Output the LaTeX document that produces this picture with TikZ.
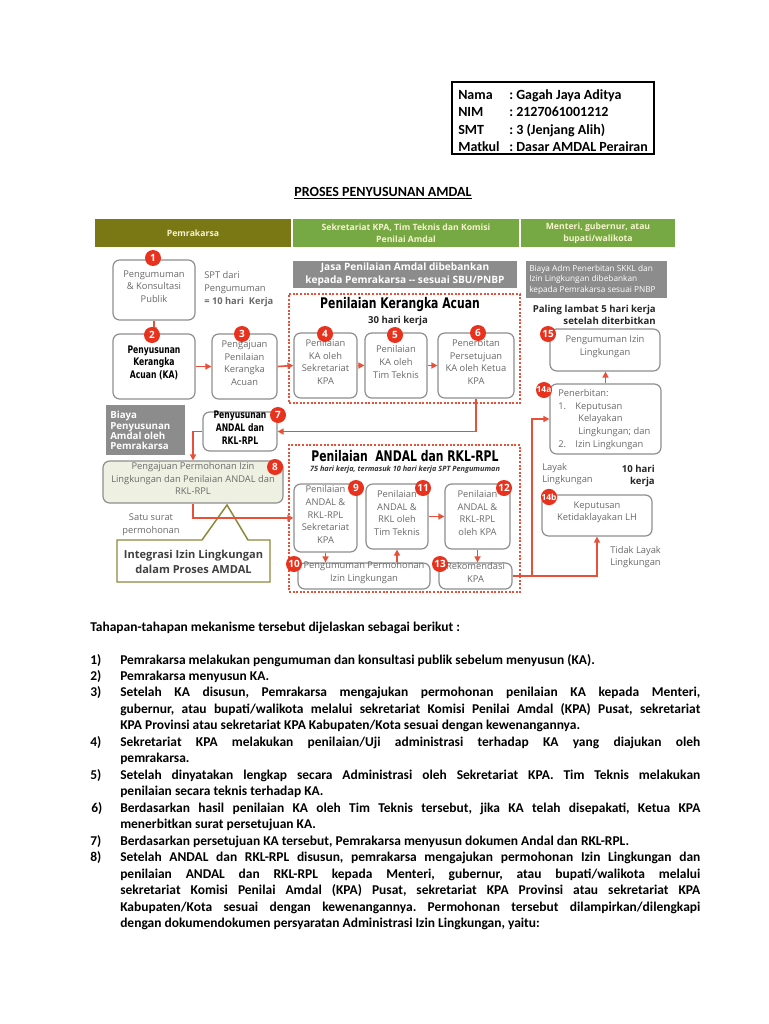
\documentclass[tikz,border=0pt]{standalone}
\usepackage{fontspec}
\setmainfont{Carlito}
\newfontfamily\dfont{Open Sans}
\newfontfamily\hfont{DejaVu Sans Condensed}[FakeStretch=0.82]
\usetikzlibrary{fit,arrows.meta}
\definecolor{olivebar}{HTML}{7A7814}
\definecolor{greenbar}{HTML}{76A843}
\definecolor{badgered}{HTML}{E8321E}
\definecolor{arrred}{HTML}{E8503A}
\definecolor{boxgrey}{HTML}{8E8E8E}
\definecolor{txtgrey}{HTML}{6A6A6A}
\definecolor{bangrey}{HTML}{8C8C8C}
\definecolor{paleg}{HTML}{EEF1E2}
\definecolor{calloutc}{HTML}{8C8A3A}
\definecolor{bartext}{HTML}{F6F3CF}
\tikzset{
  body/.style={anchor=base west, inner sep=0pt, font=\bfseries\fontsize{10.1}{12}\selectfont},
  box/.style={draw=boxgrey, line width=0.9pt, rounded corners=5pt, inner sep=0pt, fill=white,
    font=\dfont\fontsize{7}{9.5}\selectfont, text=txtgrey, align=center},
  boldbox/.style={box, font=\hfont\bfseries\fontsize{7.8}{9.5}\selectfont, text=black},
  badge/.style={circle, fill=badgered, text=white, inner sep=0pt, minimum size=12pt,
    font=\dfont\bfseries\fontsize{7.5}{8}\selectfont},
  arr/.style={draw=arrred, line width=1.2pt, -{Triangle[length=4.5pt,width=4.5pt]}},
  rline/.style={draw=arrred, line width=1.2pt},
  dbox/.style={draw=arrred, line width=0.8pt, dash pattern=on 1.5pt off 1.2pt, inner sep=0pt},
  lbl/.style={inner sep=0pt, font=\dfont\fontsize{7}{9.5}\selectfont, text=txtgrey},
  blbl/.style={inner sep=0pt, font=\dfont\bfseries\fontsize{7.2}{9.5}\selectfont, text=black!85},
  bartxt/.style={inner sep=0pt, align=center, text=bartext, font=\dfont\bfseries\fontsize{6.5}{9}\selectfont},
  bantxt/.style={inner sep=0pt, text=white, font=\dfont\bfseries\fontsize{7}{8}\selectfont},
  hdr/.style={anchor=base west, inner sep=0pt, font=\bfseries\fontsize{10.5}{12}\selectfont},
  heading/.style={inner sep=0pt, font=\hfont\bfseries\fontsize{11}{12}\selectfont}
}
\frenchspacing
\begin{document}
\begin{tikzpicture}[x=0.75pt,y=-0.75pt]
\path[use as bounding box, fill=white] (0,0) rectangle (768,1024);

% ---- header table
\node[draw=black, line width=1.1pt, inner sep=0pt, fit={(452,82)(654,154)}] (idbox) {};
\node[hdr] (l1) at (458,99) {Nama};   \node[hdr] (v1) at (509,99) {: Gagah Jaya Aditya};
\node[hdr] (l2) at (458,117) {NIM};   \node[hdr] (v2) at (509,117) {: 2127061001212};
\node[hdr] (l3) at (458,134) {SMT};   \node[hdr] (v3) at (509,134) {: 3 (Jenjang Alih)};
\node[hdr] (l4) at (458,151) {Matkul}; \node[hdr] (v4) at (509,151) {: Dasar AMDAL Perairan};

% ---- title
\node[inner sep=0pt, font=\bfseries\fontsize{10.5}{12}\selectfont] (title) at (383,193) {\underline{PROSES PENYUSUNAN AMDAL}};

% ---- column header bars
\node[fill=olivebar, inner sep=0pt, fit={(95,219)(291,247)}] (bar1) {};
\node[fill=greenbar, inner sep=0pt, fit={(293,219)(519,247)}] (bar2) {};
\node[fill=greenbar, inner sep=0pt, fit={(521,219)(675,247)}] (bar3) {};
\node[bartxt] (bt1) at (bar1.center) {Pemrakarsa};
\node[bartxt] (bt2) at (bar2.center) {Sekretariat KPA, Tim Teknis dan Komisi\\Penilai Amdal};
\node[bartxt] (bt3) at (bar3.center) {Menteri, gubernur, atau\\bupati/walikota};

% ---- grey banners
\node[fill=bangrey, inner sep=0pt, fit={(293,261)(517,288)}] (ban1) {};
\node[bantxt, align=center, font=\dfont\bfseries\fontsize{7.6}{9.5}\selectfont] (ban1t) at (ban1.center) {Jasa Penilaian Amdal dibebankan\\kepada Pemrakarsa -- sesuai SBU/PNBP};
\node[fill=bangrey, inner sep=0pt, fit={(526,261)(667,298)}] (ban2) {};
\node[bantxt, align=left, anchor=west, font=\dfont\fontsize{6.2}{7.9}\selectfont] (ban2t) at (529,279.5) {Biaya Adm Penerbitan SKKL dan\\Izin Lingkungan dibebankan\\kepada Pemrakarsa sesuai PNBP};
\node[fill=bangrey, inner sep=0pt, fit={(106,405)(185,455)}] (ban3) {};
\node[bantxt, align=left, anchor=west, font=\dfont\bfseries\fontsize{7.3}{7.7}\selectfont] (ban3t) at (110,430.5) {Biaya\\Penyusunan\\Amdal oleh\\Pemrakarsa};

% ---- dashed groups
\node[dbox, fit={(289,294)(520,403)}] (gka) {};
\node[heading] (gkat) at (400,305) {Penilaian Kerangka Acuan};
\node[blbl] (gkas) at (398,321) {30 hari kerja};
\node[dbox, fit={(289,445)(520,592)}] (gan) {};
\node[heading] (gant) at (405,456) {Penilaian\ \ ANDAL dan RKL-RPL};
\node[inner sep=0pt, font=\dfont\bfseries\itshape\fontsize{5.5}{7}\selectfont, text=black!80] (gans) at (405,470) {75 hari kerja, termasuk 10 hari kerja SPT Pengumuman};

% ---- callout
\path[draw=calloutc, line width=1.1pt, fill=white] (117,540) -- (202,540) -- (227,505) -- (248,540) -- (270,540) -- (270,582) -- (117,582) -- cycle;
\node[inner sep=0pt, align=center, text=black!75, font=\dfont\bfseries\fontsize{8.3}{11.5}\selectfont] (callt) at (193.5,562) {Integrasi Izin Lingkungan\\dalam Proses AMDAL};

% ---- process boxes
\node[box, fit={(113,260)(195,320)}] (n1) {Pengumuman\\\& Konsultasi\\Publik};
\node[boldbox, fit={(113,334)(195,399)}] (n2) {Penyusunan\\Kerangka\\Acuan (KA)};
\node[box, fit={(212,334)(277,399)}] (n3) {Pengajuan\\Penilaian\\Kerangka\\Acuan};
\node[box, fit={(294,333)(357,398)}] (n4) {Penilaian\\KA oleh\\Sekretariat\\KPA};
\node[box, fit={(365,333)(427,398)}] (n5) {Penilaian\\KA oleh\\Tim Teknis};
\node[box, fit={(438,333)(514,398)}] (n6) {Penerbitan\\Persetujuan\\KA oleh Ketua\\KPA};
\node[boldbox, fit={(203,412)(277,451)}] (n7) {Penyusunan\\ANDAL dan\\RKL-RPL};
\node[box, fill=paleg, fit={(103,461)(283,503)}] (n8) {Pengajuan Permohonan Izin\\Lingkungan dan Penilaian ANDAL dan\\RKL-RPL};
\node[box, fit={(294,484)(357,552)}] (n9) {Penilaian\\ANDAL \&\\RKL-RPL\\Sekretariat\\KPA};
\node[box, fit={(366,484)(428,549)}] (n11) {Penilaian\\ANDAL \&\\RKL oleh\\Tim Teknis};
\node[box, fit={(445,484)(510,549)}] (n12) {Penilaian\\ANDAL \&\\RKL-RPL\\oleh KPA};
\node[box, fit={(298,563)(430,589)}] (n10) {Pengumuman Permohonan\\Izin Lingkungan};
\node[box, fit={(439,563)(512,589)}] (n13) {Rekomendasi\\KPA};
\node[box, fit={(550,329)(660,371)}] (n15) {Pengumuman Izin\\Lingkungan};
\node[box, fit={(550,384)(661,454)}] (n14a) {};
\node[lbl, anchor=north west, align=left] (n14at) at (558,389) {Penerbitan:\\1.\hspace{7pt}Keputusan\\\hspace{15pt}Kelayakan\\\hspace{15pt}Lingkungan; dan\\2.\hspace{7pt}Izin Lingkungan};
\node[box, fit={(542,495)(652,536)}] (n14b) {Keputusan\\Ketidaklayakan LH};

% ---- free labels
\node[lbl, anchor=west, align=left] (spt) at (204,289) {SPT dari\\Pengumuman\\\textbf{= 10 hari\ \ Kerja}};
\node[lbl, align=center] (satu) at (151,525) {Satu surat\\permohonan};
\node[lbl, anchor=west, align=left] (layak) at (542,474) {Layak\\Lingkungan};
\node[blbl, anchor=east, align=right] (hari10) at (655,476) {10 hari\\kerja};
\node[lbl, anchor=west, align=left] (tidak) at (610,557) {Tidak Layak\\Lingkungan};
\node[blbl, anchor=east, align=right] (paling) at (656,315) {Paling lambat 5 hari kerja\\setelah diterbitkan};

% ---- connectors
\draw[arr] (n1.south) -- (n2.north);
\draw[arr] (n2.east) -- (n3.west);
\draw[arr] (n3.east) -- (n4.west);
\draw[arr] (n4.east) -- (n5.west);
\draw[arr] (n5.east) -- (n6.west);
\draw[arr] (n6.south) |- (n7.east);
\draw[arr] (n7.west) -| (n8.north);
\draw[arr] (n8.south) |- (n9.west);
\draw[arr] (n9.south) -- (n9.south |- n10.north);
\draw[arr] (n10.north -| n11.south) -- (n11.south);
\draw[arr] (n11.east) -- (n12.west);
\draw[arr] (n12.south) -- (n12.south |- n13.north);
\coordinate (junc) at (532,576);
\draw[rline] (n13.east) -- (junc);
\draw[arr] (junc) |- (n14a.west);
\draw[arr] (junc) -| (n14b.south);
\draw[arr] (n14a.north) -- (n14a.north |- n15.south);

% ---- badges
\node[badge] (b1) at (153,258) {1};
\node[badge] (b2) at (152,335) {2};
\node[badge] (b3) at (242,334) {3};
\node[badge] (b4) at (325,334) {4};
\node[badge] (b5) at (395,335) {5};
\node[badge] (b6) at (478,333) {6};
\node[badge] (b7) at (278,415) {7};
\node[badge] (b8) at (275,467) {8};
\node[badge] (b9) at (356,488) {9};
\node[badge] (b11) at (423,488) {11};
\node[badge] (b12) at (504,488) {12};
\node[badge] (b10) at (294,564) {10};
\node[badge] (b13) at (440,564) {13};
\node[badge] (b15) at (548,334) {15};
\node[badge, font=\dfont\bfseries\fontsize{6.3}{7}\selectfont] (b14a) at (544,390) {14a};
\node[badge, font=\dfont\bfseries\fontsize{6.3}{7}\selectfont] (b14b) at (549,497) {14b};

% ---- body text
\node[body] (t0) at (90,631) {Tahapan-tahapan mekanisme tersebut dijelaskan sebagai berikut :};
\node[body] (k1) at (90,664) {1)}; \node[body] (s1a) at (120,664) {Pemrakarsa melakukan pengumuman dan konsultasi publik sebelum menyusun (KA).};
\node[body] (k2) at (90,680) {2)}; \node[body] (s2a) at (120,680) {Pemrakarsa menyusun KA.};
\node[body] (k3) at (90,696) {3)}; \node[body] (s3a) at (120,696) {\makebox[435pt][s]{Setelah KA disusun, Pemrakarsa mengajukan permohonan penilaian KA kepada Menteri,}};
\node[body] (s3b) at (120,713) {\makebox[435pt][s]{gubernur, atau bupati/walikota melalui sekretariat Komisi Penilai Amdal (KPA) Pusat, sekretariat}};
\node[body] (s3c) at (120,729) {KPA Provinsi atau sekretariat KPA Kabupaten/Kota sesuai dengan kewenangannya.};
\node[body] (k4) at (90,746) {4)}; \node[body] (s4a) at (120,746) {\makebox[435pt][s]{Sekretariat KPA melakukan penilaian/Uji administrasi terhadap KA yang diajukan oleh}};
\node[body] (s4b) at (120,762) {pemrakarsa.};
\node[body] (k5) at (90,779) {5)}; \node[body] (s5a) at (120,779) {\makebox[435pt][s]{Setelah dinyatakan lengkap secara Administrasi oleh Sekretariat KPA. Tim Teknis melakukan}};
\node[body] (s5b) at (120,795) {penilaian secara teknis terhadap KA.};
\node[body] (k6) at (91,812) {6)}; \node[body] (s6a) at (120,812) {\makebox[435pt][s]{Berdasarkan hasil penilaian KA oleh Tim Teknis tersebut, jika KA telah disepakati, Ketua KPA}};
\node[body] (s6b) at (120,828) {menerbitkan surat persetujuan KA.};
\node[body] (k7) at (90,845) {7)}; \node[body] (s7a) at (120,845) {Berdasarkan persetujuan KA tersebut, Pemrakarsa menyusun dokumen Andal dan RKL-RPL.};
\node[body] (k8) at (90,861) {8)}; \node[body] (s8a) at (120,861) {\makebox[435pt][s]{Setelah ANDAL dan RKL-RPL disusun, pemrakarsa mengajukan permohonan Izin Lingkungan dan}};
\node[body] (s8b) at (120,878) {\makebox[435pt][s]{penilaian ANDAL dan RKL-RPL kepada Menteri, gubernur, atau bupati/walikota melalui}};
\node[body] (s8c) at (120,894) {\makebox[435pt][s]{sekretariat Komisi Penilai Amdal (KPA) Pusat, sekretariat KPA Provinsi atau sekretariat KPA}};
\node[body] (s8d) at (120,911) {\makebox[435pt][s]{Kabupaten/Kota sesuai dengan kewenangannya. Permohonan tersebut dilampirkan/dilengkapi}};
\node[body] (s8e) at (120,927) {dengan dokumendokumen persyaratan Administrasi Izin Lingkungan, yaitu:};
\end{tikzpicture}
\end{document}
